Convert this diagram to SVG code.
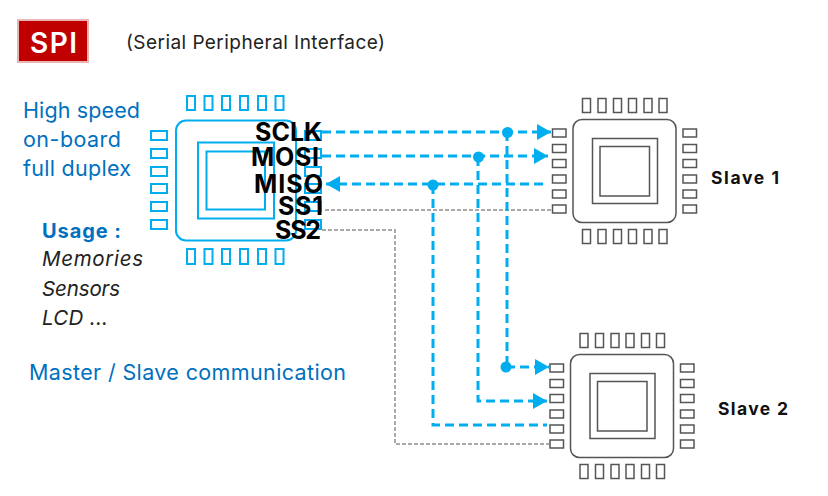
<svg xmlns="http://www.w3.org/2000/svg" width="828" height="496" viewBox="0 0 828 496">
<style>
text{font-family:"Inter","Noto Sans",sans-serif}
.g{fill:#fff;stroke:#555;stroke-width:1.5}
.w{fill:none;stroke:#00aeef;stroke-width:2}
.bus{fill:none;stroke:#00aeef;stroke-width:3;stroke-dasharray:9 5}
.ss{fill:none;stroke:#aaa;stroke-width:2;stroke-dasharray:4 2}
.dot{fill:#00aeef}
.pin{font-size:25px;font-weight:700;fill:#000}
.info{font-size:21.500px;fill:#0070c0}
.use{font-size:20.500px;font-style:italic;fill:#222}
.sl{font-size:17.500px;font-weight:700;fill:#111}
</style>
<defs>
<marker id="ah" markerUnits="userSpaceOnUse" markerWidth="16" markerHeight="16" refX="14" refY="8" orient="auto"><path d="M0 0L14 8L0 16Z" fill="#00aeef"/></marker>
<g id="chip">
<rect class="g" x="0" y="0" width="103" height="103" rx="9"/>
<rect class="g" x="19.500" y="19" width="65" height="65"/>
<rect class="g" x="27" y="27" width="49.500" height="49.500"/>
<rect class="g" x="-20.500" y="9.500" width="13.500" height="8"/><rect class="g" x="-20.500" y="25" width="13.500" height="8"/><rect class="g" x="-20.500" y="40" width="13.500" height="8"/><rect class="g" x="-20.500" y="55.500" width="13.500" height="8"/><rect class="g" x="-20.500" y="70.500" width="13.500" height="8"/><rect class="g" x="-20.500" y="85.500" width="13.500" height="8"/>
<rect class="g" x="110" y="9.500" width="13.500" height="8"/><rect class="g" x="110" y="25" width="13.500" height="8"/><rect class="g" x="110" y="40" width="13.500" height="8"/><rect class="g" x="110" y="55.500" width="13.500" height="8"/><rect class="g" x="110" y="70.500" width="13.500" height="8"/><rect class="g" x="110" y="85.500" width="13.500" height="8"/>
<rect class="g" x="9.500" y="-21" width="8" height="14"/><rect class="g" x="25" y="-21" width="8" height="14"/><rect class="g" x="40.500" y="-21" width="8" height="14"/><rect class="g" x="55.500" y="-21" width="8" height="14"/><rect class="g" x="71" y="-21" width="8" height="14"/><rect class="g" x="86" y="-21" width="8" height="14"/>
<rect class="g" x="9.500" y="110" width="8" height="14"/><rect class="g" x="25" y="110" width="8" height="14"/><rect class="g" x="40.500" y="110" width="8" height="14"/><rect class="g" x="55.500" y="110" width="8" height="14"/><rect class="g" x="71" y="110" width="8" height="14"/><rect class="g" x="86" y="110" width="8" height="14"/>
</g>
</defs>
<rect width="828" height="496" fill="#fff"/>
<g id="spi-badge">
<rect x="18" y="20" width="70" height="42" fill="#c00000" stroke="#e8b4b4" stroke-width="2"/>
<text x="30" y="53" textLength="47" style="font-size:28px;font-weight:600;fill:#fff">SPI</text>
</g>
<text x="126" y="49" textLength="259" style="font-size:19px;fill:#222">(Serial Peripheral Interface)</text>
<g id="info">
<text class="info" x="23" y="118" textLength="117">High speed</text>
<text class="info" x="23" y="147" textLength="98">on-board</text>
<text class="info" x="23" y="176" textLength="108">full duplex</text>
<text x="42" y="238" textLength="79" style="font-size:20px;font-weight:700;fill:#0070c0">Usage :</text>
<text class="use" x="42" y="266" textLength="101">Memories</text>
<text class="use" x="42" y="296" textLength="78">Sensors</text>
<text class="use" x="42" y="325" textLength="66">LCD ...</text>
<text class="info" x="29" y="380" textLength="317">Master / Slave communication</text>
</g>
<g id="master">
<rect class="w" x="176" y="120.500" width="120" height="120" rx="10"/>
<rect class="w" x="198" y="142.500" width="76" height="76"/>
<rect class="w" x="206.500" y="151.500" width="58.500" height="58"/>
<rect class="w" x="151" y="131" width="16" height="9"/><rect class="w" x="151" y="149" width="16" height="9"/><rect class="w" x="151" y="167" width="16" height="9"/><rect class="w" x="151" y="184" width="16" height="9"/><rect class="w" x="151" y="202" width="16" height="9"/><rect class="w" x="151" y="220" width="16" height="9"/>
<rect class="w" x="187" y="96" width="8" height="14"/><rect class="w" x="204.500" y="96" width="8" height="14"/><rect class="w" x="222" y="96" width="8" height="14"/><rect class="w" x="240" y="96" width="8" height="14"/><rect class="w" x="258" y="96" width="8" height="14"/><rect class="w" x="275.500" y="96" width="8" height="14"/>
<rect class="w" x="187" y="249" width="8" height="15"/><rect class="w" x="204.500" y="249" width="8" height="15"/><rect class="w" x="222" y="249" width="8" height="15"/><rect class="w" x="240" y="249" width="8" height="15"/><rect class="w" x="258" y="249" width="8" height="15"/><rect class="w" x="275.500" y="249" width="8" height="15"/>
<rect class="w" x="305" y="131" width="16" height="9"/><rect class="w" x="305" y="149" width="16" height="9"/><rect class="w" x="305" y="167" width="16" height="9"/><rect class="w" x="305" y="184" width="16" height="9"/><rect class="w" x="305" y="202" width="16" height="9"/><rect class="w" x="305" y="220" width="16" height="9"/>
</g>
<g id="slave1"><use href="#chip" x="573" y="119.500"/><text class="sl" x="711" y="184" textLength="68">Slave 1</text></g>
<g id="slave2"><use href="#chip" x="570.500" y="354.500"/><text class="sl" x="718" y="415" textLength="70">Slave 2</text></g>
<g id="connectors">
<path class="bus" d="M322 132H551" marker-end="url(#ah)"/>
<path class="bus" d="M322 156H548" marker-end="url(#ah)"/>
<path class="bus" d="M543 184H326" marker-end="url(#ah)"/>
<path class="ss" d="M325 210H552"/>
<path class="ss" d="M322 230H395V444H549"/>
<path class="bus" d="M507 132V367"/>
<path class="bus" d="M506 367H549" marker-end="url(#ah)"/>
<path class="bus" d="M478 157V401H547" marker-end="url(#ah)"/>
<path class="bus" d="M433 185V425H547"/>
<circle class="dot" cx="507.500" cy="132.500" r="5.500"/>
<circle class="dot" cx="478.500" cy="157" r="5.500"/>
<circle class="dot" cx="433" cy="185" r="5.500"/>
<circle class="dot" cx="506" cy="367" r="5.500"/>
</g>
<g id="pin-labels">
<text class="pin" x="255" y="141" textLength="67">SCLK</text>
<text class="pin" x="251" y="166" textLength="68">MOSI</text>
<text class="pin" x="254" y="193" textLength="69">MISO</text>
<text class="pin" x="278" y="215" textLength="45">SS1</text>
<text class="pin" x="275" y="239" textLength="46">SS2</text>
</g>
</svg>
